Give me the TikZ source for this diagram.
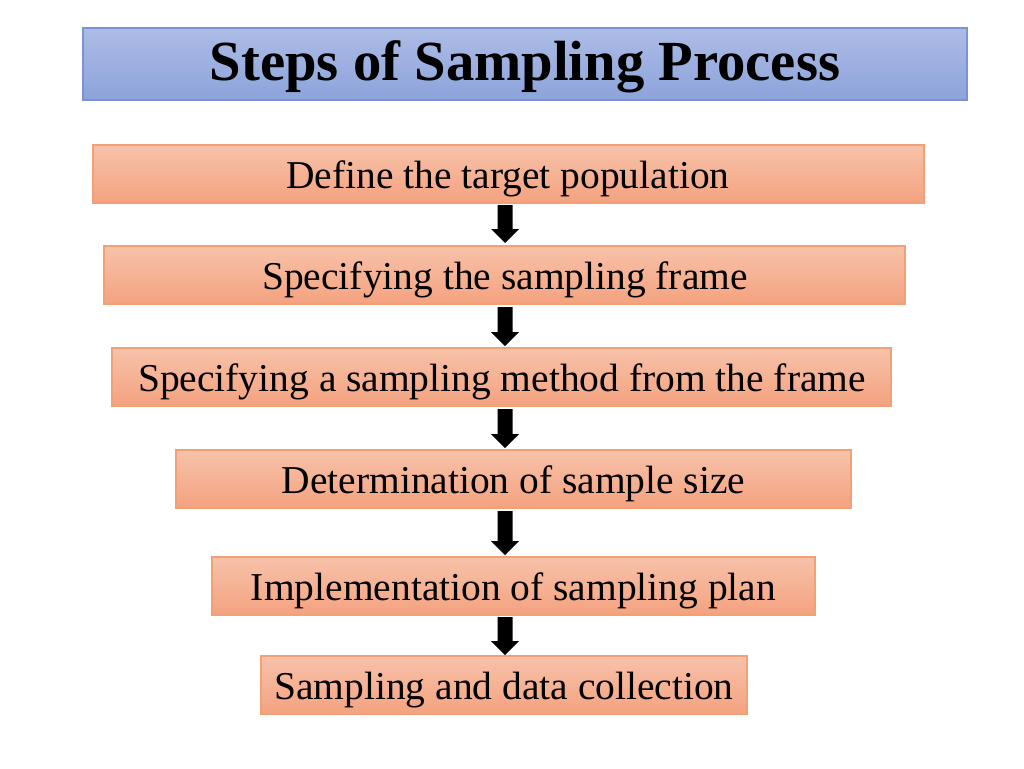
\documentclass[tikz,border=0pt]{standalone}
\usepackage{fontspec}
\setmainfont{Liberation Serif}
\definecolor{bluetop}{HTML}{ADBCE6}
\definecolor{bluebot}{HTML}{8CA3DA}
\definecolor{blueline}{HTML}{7A93D3}
\definecolor{ortop}{HTML}{F7C2AA}
\definecolor{orbot}{HTML}{F4A27F}
\definecolor{orline}{HTML}{F2A076}
\begin{document}
\begin{tikzpicture}[x=0.75pt,y=-0.75pt,
  titlebox/.style={draw=blueline,line width=0.9pt,top color=bluetop,bottom color=bluebot},
  stepbox/.style={draw=orline,line width=0.9pt,top color=ortop,bottom color=orbot},
  steptext/.style={font=\fontsize{29.6}{34}\selectfont,text=black,anchor=base,inner sep=0pt},
  blockarrow/.style={fill=black,draw=none}]
\useasboundingbox (0,0) rectangle (1024,768);
\fill[white] (0,0) rectangle (1024,768);
% title
\path[titlebox] (83,28) rectangle (967,100);
\node[font=\bfseries\fontsize{42.5}{48}\selectfont,anchor=base,inner sep=0pt] (title) at (525,80) {Steps of Sampling Process};
% boxes
\path[stepbox] (93,145) rectangle (924,203);
\node[steptext] (s1) at (508,188) {Define the target population};
\path[stepbox] (104,246) rectangle (905,304);
\node[steptext] (s2) at (505,289) {Specifying the sampling frame};
\path[stepbox] (112,348) rectangle (891,406);
\node[steptext] (s3) at (502,391) {Specifying a sampling method from the frame};
\path[stepbox] (176,450) rectangle (851,508);
\node[steptext] (s4) at (513.5,493) {Determination of sample size};
\path[stepbox] (212,557) rectangle (815,615);
\node[steptext] (s5) at (513.5,600) {Implementation of sampling plan};
\path[stepbox] (261,656) rectangle (747,714);
\node[steptext] (s6) at (504,699) {Sampling and data collection};
% arrows
\foreach \t/\b in {205/243,307/346,409/448,511/555,617/655}{
  \pgfmathsetmacro{\h}{\b-14}
  \fill[blockarrow] (497.5,\t) -- (512.5,\t) -- (512.5,\h) -- (519,\h) -- (505,\b) -- (491,\h) -- (497.5,\h) -- cycle;
}
\end{tikzpicture}
\end{document}
